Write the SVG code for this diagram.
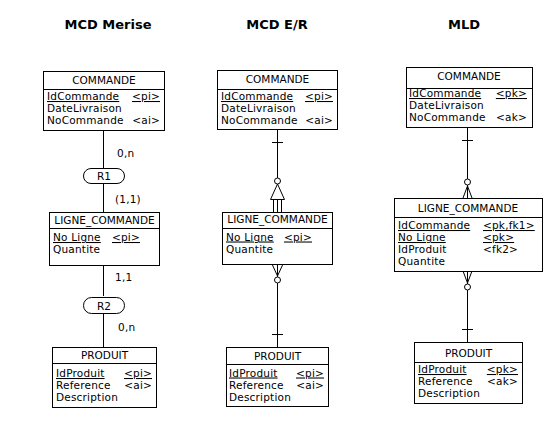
<svg xmlns="http://www.w3.org/2000/svg" width="557" height="424" viewBox="0 0 557 424">
<style>
text{font-family:"DejaVu Sans","Verdana",sans-serif;font-size:10.5px;fill:#000;letter-spacing:0.2px}
.t{font-weight:bold;font-size:13px;text-anchor:middle;letter-spacing:0}
.h{text-anchor:middle;letter-spacing:0}
.e{text-anchor:end}
.u{text-decoration:underline}
rect{fill:#fff;stroke:#000;stroke-width:1}
line,path,polyline{stroke:#000;stroke-width:1;fill:none}
circle{fill:#fff;stroke:#000;stroke-width:1}
</style>
<rect x="0" y="0" width="557" height="424" style="stroke:none"/>
<g id="titles">
<text class="t" x="108" y="29">MCD Merise</text>
<text class="t" x="277" y="29">MCD E/R</text>
<text class="t" x="464" y="29">MLD</text>
</g>
<g id="connectors">
<line x1="103.5" y1="130" x2="103.5" y2="168"/>
<line x1="103.5" y1="183" x2="103.5" y2="212"/>
<line x1="103.5" y1="265" x2="103.5" y2="296"/>
<line x1="103.5" y1="313" x2="103.5" y2="347"/>
<text x="117" y="157">0,n</text>
<text x="115" y="203">(1,1)</text>
<text x="115" y="281">1,1</text>
<text x="118" y="331">0,n</text>
<line x1="277.5" y1="129" x2="277.5" y2="178"/>
<line x1="272" y1="142.5" x2="283" y2="142.5"/>
<circle cx="277.5" cy="181" r="3"/>
<polygon points="277.5,184 270.5,199.5 284.5,199.5" style="fill:#fff;stroke:#000"/>
<line x1="273.5" y1="199.5" x2="273.5" y2="212"/>
<line x1="277.5" y1="199.5" x2="277.5" y2="212"/>
<line x1="281.5" y1="199.5" x2="281.5" y2="212"/>
<polyline points="272,264 277.5,276 283,264"/>
<line x1="277.5" y1="264" x2="277.5" y2="277"/>
<circle cx="277.5" cy="280" r="3"/>
<line x1="277.5" y1="283" x2="277.5" y2="347"/>
<line x1="272" y1="334.5" x2="283" y2="334.5"/>
<line x1="467.5" y1="127" x2="467.5" y2="179"/>
<line x1="462" y1="140.5" x2="473" y2="140.5"/>
<circle cx="467.5" cy="182" r="3"/>
<polyline points="463,198 467.5,186 472,198"/>
<line x1="467.5" y1="185" x2="467.5" y2="198"/>
<polyline points="463,271 467.5,283 472,271"/>
<line x1="467.5" y1="271" x2="467.5" y2="284"/>
<circle cx="467.5" cy="287" r="3"/>
<line x1="467.5" y1="290" x2="467.5" y2="342"/>
<line x1="462" y1="329.5" x2="473" y2="329.5"/>
</g>
<g id="R1">
<rect x="83.5" y="168.5" width="41" height="15" rx="7.5"/>
<text class="h" x="104" y="180">R1</text>
</g>
<g id="R2">
<rect x="83.5" y="297.5" width="41" height="16" rx="8"/>
<text class="h" x="104" y="309.5">R2</text>
</g>
<g id="merise_commande">
<rect x="43.5" y="71.5" width="121" height="59"/>
<line x1="43.5" y1="89.5" x2="164.5" y2="89.5"/>
<text class="h" x="104" y="83.5">COMMANDE</text>
<text class="u" x="47" y="100">IdCommande</text>
<text class="e u" x="160" y="100">&lt;pi&gt;</text>
<text x="47" y="112">DateLivraison</text>
<text x="47" y="124">NoCommande</text>
<text class="e" x="160" y="124">&lt;ai&gt;</text>
</g>
<g id="merise_ligne">
<rect x="49.5" y="212.5" width="110" height="53"/>
<line x1="49.5" y1="228.5" x2="159.5" y2="228.5"/>
<text class="h" x="104.5" y="223.5">LIGNE_COMMANDE</text>
<text class="u" x="53" y="241">No Ligne</text>
<text class="u" x="112" y="241">&lt;pi&gt;</text>
<text x="53" y="253">Quantite</text>
</g>
<g id="merise_produit">
<rect x="52.5" y="347.5" width="104" height="60"/>
<line x1="52.5" y1="363.5" x2="156.5" y2="363.5"/>
<text class="h" x="104.5" y="359">PRODUIT</text>
<text class="u" x="56" y="377">IdProduit</text>
<text class="e u" x="152" y="377">&lt;pi&gt;</text>
<text x="56" y="389">Reference</text>
<text class="e" x="152" y="389">&lt;ai&gt;</text>
<text x="56" y="401">Description</text>
</g>
<g id="er_commande">
<rect x="217.5" y="70.5" width="120" height="59"/>
<line x1="217.5" y1="89.5" x2="337.5" y2="89.5"/>
<text class="h" x="277.5" y="82.5">COMMANDE</text>
<text class="u" x="221" y="100">IdCommande</text>
<text class="e u" x="333" y="100">&lt;pi&gt;</text>
<text x="221" y="112">DateLivraison</text>
<text x="221" y="124">NoCommande</text>
<text class="e" x="333" y="124">&lt;ai&gt;</text>
</g>
<g id="er_ligne">
<rect x="222.5" y="212.5" width="110" height="52"/>
<line x1="222.5" y1="228.5" x2="332.5" y2="228.5"/>
<text class="h" x="277.5" y="223">LIGNE_COMMANDE</text>
<text class="u" x="226" y="240.5">No Ligne</text>
<text class="u" x="284" y="240.5">&lt;pi&gt;</text>
<text x="226" y="252.5">Quantite</text>
</g>
<g id="er_produit">
<rect x="226.5" y="347.5" width="102" height="59"/>
<line x1="226.5" y1="364.5" x2="328.5" y2="364.5"/>
<text class="h" x="277.5" y="359.5">PRODUIT</text>
<text class="u" x="229" y="376.5">IdProduit</text>
<text class="e u" x="324" y="376.5">&lt;pi&gt;</text>
<text x="229" y="388.5">Reference</text>
<text class="e" x="324" y="388.5">&lt;ai&gt;</text>
<text x="229" y="400.5">Description</text>
</g>
<g id="mld_commande">
<rect x="406.5" y="67.5" width="126" height="60"/>
<line x1="406.5" y1="88.5" x2="532.5" y2="88.5"/>
<text class="h" x="469" y="80">COMMANDE</text>
<text class="u" x="409" y="97">IdCommande</text>
<text class="e u" x="527" y="97">&lt;pk&gt;</text>
<text x="409" y="109">DateLivraison</text>
<text x="409" y="121">NoCommande</text>
<text class="e" x="527" y="121">&lt;ak&gt;</text>
</g>
<g id="mld_ligne">
<rect x="394.5" y="198.5" width="148" height="73"/>
<line x1="394.5" y1="217.5" x2="542.5" y2="217.5"/>
<text class="h" x="468" y="212">LIGNE_COMMANDE</text>
<text class="u" x="398" y="229">IdCommande</text>
<text class="u" x="483" y="229">&lt;pk,fk1&gt;</text>
<text class="u" x="398" y="241">No Ligne</text>
<text class="u" x="483" y="241">&lt;pk&gt;</text>
<text x="398" y="253">IdProduit</text>
<text x="483" y="253">&lt;fk2&gt;</text>
<text x="398" y="265">Quantite</text>
</g>
<g id="mld_produit">
<rect x="414.5" y="342.5" width="108" height="61"/>
<line x1="414.5" y1="362.5" x2="522.5" y2="362.5"/>
<text class="h" x="468.5" y="356.5">PRODUIT</text>
<text class="u" x="418" y="373">IdProduit</text>
<text class="e u" x="518" y="373">&lt;pk&gt;</text>
<text x="418" y="385">Reference</text>
<text class="e" x="518" y="385">&lt;ak&gt;</text>
<text x="418" y="397">Description</text>
</g>
</svg>
